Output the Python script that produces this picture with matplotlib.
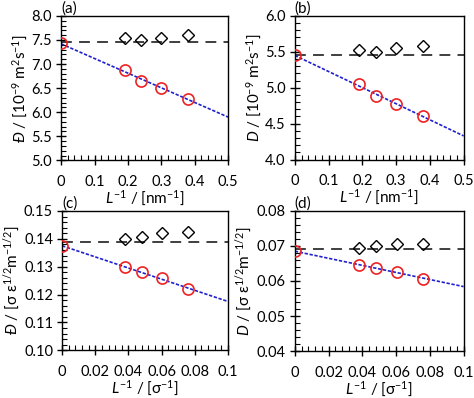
import matplotlib
matplotlib.use("Agg")
import matplotlib.pyplot as plt
import numpy as np
from matplotlib.ticker import MultipleLocator

plt.rcParams["font.family"] = ["Lato", "DejaVu Sans"]
plt.rcParams["mathtext.fontset"] = "custom"
plt.rcParams["mathtext.rm"] = "Lato"
plt.rcParams["mathtext.it"] = "Lato:italic"

# x values (inverse box length)
x_nm = [0.0, 0.19, 0.24, 0.30, 0.38]
x_sig = [0.0, 0.038, 0.048, 0.0605, 0.076]

# (a) MS diffusivity, real units
a_circ = [7.43, 6.88, 6.65, 6.50, 6.28]
a_diam = [7.54, 7.49, 7.55, 7.60]
a_dash = 7.45
a_fit = [7.42, -3.04]   # intercept, slope

# (b) self diffusivity, real units
b_circ = [5.45, 5.05, 4.88, 4.77, 4.61]
b_diam = [5.53, 5.50, 5.55, 5.58]
b_dash = 5.45
b_fit = [5.45, -2.24]

# (c) MS diffusivity, reduced units
c_circ = [0.1375, 0.1297, 0.1282, 0.1260, 0.1220]
c_diam = [0.1398, 0.1408, 0.1420, 0.1423]
c_dash = 0.1388
c_fit = [0.1375, -0.200]

# (d) self diffusivity, reduced units
d_circ = [0.0685, 0.0645, 0.0637, 0.0626, 0.0607]
d_diam = [0.0694, 0.0700, 0.0705, 0.0706]
d_dash = 0.0690
d_fit = [0.0685, -0.101]

fig = plt.figure(figsize=(4.74, 3.98), dpi=100)

paneles = [
    ("(a)", [0.129, 0.597, 0.352, 0.363], x_nm, a_circ, a_diam, a_dash, a_fit,
     (0, 0.5, 0.1, 0.02), (5.0, 8.0, 0.5, 0.1), "%.1f",
     r"$\mathit{Đ}$ / [10$^{-9}$ m$^{2}$s$^{-1}$]", r"$\mathit{L}^{-1}$ / [nm$^{-1}$]"),
    ("(b)", [0.622, 0.599, 0.356, 0.361], x_nm, b_circ, b_diam, b_dash, b_fit,
     (0, 0.5, 0.1, 0.02), (4.0, 6.0, 0.5, 0.1), "%.1f",
     r"$\mathit{D}$ / [10$^{-9}$ m$^{2}$s$^{-1}$]", r"$\mathit{L}^{-1}$ / [nm$^{-1}$]"),
    ("(c)", [0.131, 0.120, 0.350, 0.350], x_sig, c_circ, c_diam, c_dash, c_fit,
     (0, 0.1, 0.02, 0.004), (0.10, 0.15, 0.01, 0.002), "%.2f",
     r"$\mathit{Đ}$ / [σ ε$^{1/2}$m$^{-1/2}$]", r"$\mathit{L}^{-1}$ / [σ$^{-1}$]"),
    ("(d)", [0.622, 0.118, 0.356, 0.352], x_sig, d_circ, d_diam, d_dash, d_fit,
     (0, 0.1, 0.02, 0.004), (0.04, 0.08, 0.01, 0.002), "%.2f",
     r"$\mathit{D}$ / [σ ε$^{1/2}$m$^{-1/2}$]", r"$\mathit{L}^{-1}$ / [σ$^{-1}$]"),
]

for (lab, pos, xs, circ, diam, dash, fit, xr, yr, yf, ylab, xlab) in paneles:
    ax = fig.add_axes(pos)
    xx = np.array([0.0, xr[1]])
    ax.plot(xx, fit[0] + fit[1] * xx, color="#2020d0", lw=1.2, ls=(0, (2, 1)), zorder=2)
    ax.axhline(dash, color="#303030", lw=1.3, ls=(0, (6, 4)), zorder=1)
    ax.plot(xs, circ, "o", ms=8, mfc="none", mec="#ee2222", mew=1.2, zorder=3)
    ax.plot(xs[1:], diam, "D", ms=6.5, mfc="none", mec="black", mew=1.0, zorder=3)
    ax.set_xlim(xr[0], xr[1])
    ax.set_ylim(yr[0], yr[1])
    ax.xaxis.set_major_locator(MultipleLocator(xr[2]))
    ax.xaxis.set_minor_locator(MultipleLocator(xr[3]))
    ax.yaxis.set_major_locator(MultipleLocator(yr[2]))
    ax.yaxis.set_minor_locator(MultipleLocator(yr[3]))
    ax.set_yticklabels([yf % v for v in ax.get_yticks()])
    xt = ax.get_xticks()
    ax.set_xticklabels(["0" if v == 0 else ("%g" % round(v, 3)) for v in xt])
    ax.tick_params(which="major", direction="inout", length=7, width=1.0, labelsize=10.5, pad=3)
    ax.tick_params(which="minor", direction="in", length=3.5, width=0.8)
    ax.tick_params(top=False, right=False, which="both")
    ax.tick_params(axis="x", pad=7)
    for s in ax.spines.values():
        s.set_linewidth(1.0)
    ax.set_ylabel(ylab, fontsize=11, labelpad=1)
    ax.set_xlabel(xlab, fontsize=11, labelpad=0)
    ax.text(0.0, 1.0, lab, transform=ax.transAxes, fontsize=11, va="bottom", ha="left")

plt.savefig("out.png", dpi=100)
plt.close()
